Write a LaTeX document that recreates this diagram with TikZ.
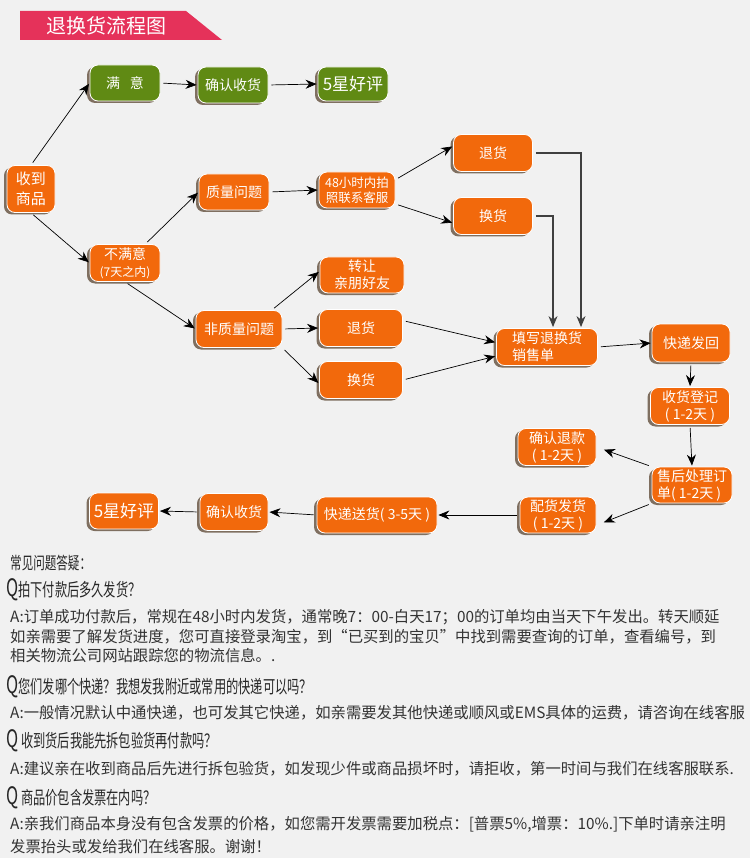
\documentclass[tikz,border=0pt]{standalone}
\usepackage{fontspec}
\setmainfont{Noto Sans CJK SC}
\newfontfamily\qfont[FakeStretch=0.68]{Noto Sans CJK SC}
\newfontfamily\afont[FakeStretch=0.99]{Noto Sans CJK SC}
\usetikzlibrary{arrows.meta,shadows}
\definecolor{bg}{HTML}{F1F1F1}
\definecolor{org}{HTML}{F2690C}
\definecolor{grn}{HTML}{608A14}
\definecolor{ban}{HTML}{E5325A}
\definecolor{shd}{HTML}{7F6F60}
\tikzset{
 box/.style={rectangle, rounded corners=8pt, fill=org, draw=white, line width=0.8pt, text=white, align=center, inner sep=0pt, font=\fontsize{14}{17}\selectfont, general shadow={shadow xshift=-3pt, shadow yshift=-2pt, fill=shd}},
 gbox/.style={box, fill=grn},
 sz/.style 2 args={minimum width=#1pt, minimum height=#2pt},
 arr/.style={draw=black, line width=0.7pt, -{Stealth[length=11pt,width=9pt]}, shorten <=3pt, shorten >=1pt},
 elb/.style={draw=black!75, line width=1.1pt, -{Stealth[length=11pt,width=9pt]}, shorten <=3pt, shorten >=1pt},
 faq/.style={anchor=west, inner sep=0pt, text=black!85},
 qline/.style={faq, font=\qfont\fontsize{18}{20}\selectfont},
 aline/.style={faq, font=\afont\fontsize{15.5}{18}\selectfont, text=black!80},
}
\newcommand{\bigQ}{{\fontsize{24}{24}\selectfont Q}}
\begin{document}
\begin{tikzpicture}[x=1pt,y=-1pt]
\fill[bg] (0,0) rectangle (750,858);
\useasboundingbox (0,0) rectangle (750,858);
% banner
\fill[ban] (20,11) -- (186,11) -- (222,40) -- (20,40) -- cycle;
\node[text=white, font=\fontsize{20}{22}\selectfont] (title) at (106,26) {退换货流程图};
% nodes
\node[gbox, sz={70}{36}] (m) at (125,83) {满\hspace{10pt}意};
\node[gbox, sz={70}{36}] (q1) at (233,85) {确认收货};
\node[gbox, sz={70}{34}, font=\fontsize{17}{20}\selectfont] (r1) at (353,84) {5星好评};
\node[box, sz={48}{47}, font=\fontsize{15}{20}\selectfont] (s) at (31,189) {收到\\商品};
\node[box, sz={70}{36}] (zl) at (234,192) {质量问题};
\node[box, sz={76}{36}, font=\fontsize{12.5}{15}\selectfont] (h48) at (357,190) {48小时内拍\\照联系客服};
\node[box, sz={70}{37}] (bmy) at (125,263) {不满意\\{\fontsize{12}{14}\selectfont(7天之内)}};
\node[box, sz={79}{37}] (th1) at (493,153) {退货};
\node[box, sz={79}{37}] (hh1) at (493,216) {换货};
\node[box, sz={84}{36}] (zr) at (362,275) {转让\\亲朋好友};
\node[box, sz={86}{37}] (fzl) at (239,329) {非质量问题};
\node[box, sz={83}{37}] (th2) at (361,328) {退货};
\node[box, sz={83}{37}] (hh2) at (361,380) {换货};
\node[box, sz={101}{37}, align=left] (tx) at (547,347) {填写退换货\\销售单};
\node[box, sz={78}{38}] (kd) at (691,343) {快递发回};
\node[box, sz={79}{37}] (sh) at (690,406) {收货登记\\( 1-2天 )};
\node[box, sz={78}{37}] (qt) at (557,447) {确认退款\\( 1-2天 )};
\node[box, sz={80}{36}, align=left] (sc) at (692,485) {售后处理订\\单( 1-2天 )};
\node[box, sz={76}{36}] (ph) at (558,515) {配货发货\\( 1-2天 )};
\node[box, sz={120}{36}] (ks) at (377,515) {快递送货( 3-5天 )};
\node[box, sz={68}{37}] (q2) at (234,512) {确认收货};
\node[box, sz={69}{36}, font=\fontsize{17}{20}\selectfont] (r2) at (124,511) {5星好评};
% connectors
\draw[arr] (s.north) -- (m.west);
\draw[arr] (s.south) -- (bmy.west);
\draw[arr] (m.east) -- (q1.west);
\draw[arr] (q1.east) -- (r1.west);
\draw[arr] (bmy.43) -- (zl.west);
\draw[arr] (bmy.south) -- (fzl.west);
\draw[arr] (zl.east) -- (h48.west);
\draw[arr] (h48.15) -- (th1.170);
\draw[arr] (h48.340) -- (hh1.190);
\draw[elb] (th1.east) -| ([xshift=34pt]tx.north);
\draw[elb] (hh1.east) -| ([xshift=6pt]tx.north);
\draw[arr] (fzl.30) -- (zr.175);
\draw[arr] (fzl.east) -- (th2.west);
\draw[arr] (fzl.south east) -- (hh2.185);
\draw[arr] (th2.10) -- (tx.175);
\draw[arr] (hh2.east) -- (tx.190);
\draw[arr] (tx.east) -- (kd.west);
\draw[arr] (kd.south) -- (sh.north);
\draw[arr] (sh.south) -- (sc.north);
\draw[arr, shorten >=8pt] (sc.north west) -- (qt.east);
\draw[arr, shorten >=8pt] (sc.south west) -- (ph.345);
\draw[arr] (ph.west) -- (ks.east);
\draw[arr] (ks.west) -- (q2.east);
\draw[arr] (q2.west) -- (r2.east);
% FAQ
\node[faq, font=\qfont\fontsize{17}{18}\selectfont] (faqt) at (10,563) {常见问题答疑：};
\node[qline] (qa) at (6,590) {\bigQ 拍下付款后多久发货？};
\node[aline] (aa1) at (10,617) {A:订单成功付款后，常规在48小时内发货，通常晚7：00-白天17；00的订单均由当天下午发出。转天顺延};
\node[aline] (aa2) at (10,637) {如亲需要了解发货进度，您可直接登录淘宝，到“已买到的宝贝”中找到需要查询的订单，查看编号，到};
\node[aline] (aa3) at (10,656) {相关物流公司网站跟踪您的物流信息。.};
\node[qline] (qb) at (6,687) {\bigQ 您们发哪个快递？我想发我附近或常用的快递可以吗？};
\node[aline] (ab1) at (10,713) {A:一般情况默认中通快递，也可发其它快递，如亲需要发其他快递或顺风或EMS具体的运费，请咨询在线客服};
\node[qline] (qc) at (6,741) {\bigQ\ 收到货后我能先拆包验货再付款吗？};
\node[aline] (ac1) at (10,769) {A:建议亲在收到商品后先进行拆包验货，如发现少件或商品损坏时，请拒收，第一时间与我们在线客服联系.};
\node[qline] (qd) at (6,798) {\bigQ\ 商品价包含发票在内吗？};
\node[aline] (ad1) at (10,824) {A:亲我们商品本身没有包含发票的价格，如您需开发票需要加税点：[普票5\%,增票：10\%.]下单时请亲注明};
\node[aline] (ad2) at (10,847) {发票抬头或发给我们在线客服。谢谢！};
\end{tikzpicture}
\end{document}
